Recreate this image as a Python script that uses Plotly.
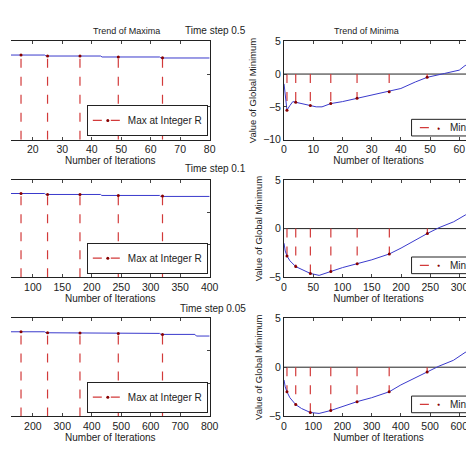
import plotly.graph_objects as go

# left column: maxima trend (x, y) per time step
max_x1 = [10, 24, 24.5, 43, 43.5, 63, 63.5, 80]
max_y1 = [2.58, 2.58, 2.55, 2.55, 2.52, 2.52, 2.49, 2.49]
max_px1 = [16, 25, 36, 49, 64]
max_py1 = [2.58, 2.55, 2.55, 2.52, 2.5]

max_x2 = [50, 120, 122, 215, 217, 315, 317, 400]
max_y2 = [2.58, 2.58, 2.55, 2.55, 2.52, 2.52, 2.49, 2.49]
max_px2 = [80, 125, 180, 245, 320]
max_py2 = [2.58, 2.55, 2.55, 2.52, 2.5]

max_x3 = [100, 240, 245, 430, 435, 630, 635, 750, 755, 800]
max_y3 = [2.58, 2.58, 2.55, 2.55, 2.53, 2.53, 2.5, 2.5, 2.45, 2.45]
max_px3 = [160, 250, 360, 490, 640]
max_py3 = [2.58, 2.55, 2.54, 2.53, 2.5]

# right column: minima trend
min_x1 = [0, 0.5, 1, 2, 3, 4, 6, 9, 11, 13, 16, 20, 25, 30, 36, 40, 45, 49, 55, 60, 62, 65]
min_y1 = [-1.5, -4.0, -5.5, -4.8, -4.2, -4.3, -4.5, -4.8, -5.0, -5.0, -4.5, -4.2, -3.7, -3.3, -2.7, -2.2, -1.2, -0.5, 0.1, 0.6, 1.3, 1.7]
min_px1 = [1, 4, 9, 16, 25, 36, 49]
min_py1 = [-5.5, -4.3, -4.8, -4.5, -3.7, -2.7, -0.5]

min_x2 = [0, 2, 5, 10, 20, 30, 45, 60, 80, 100, 125, 150, 180, 200, 245, 265, 290, 310, 325]
min_y2 = [-1.5, -2.3, -2.8, -3.3, -3.9, -4.2, -4.6, -4.8, -4.4, -4.0, -3.6, -3.2, -2.6, -2.0, -0.5, 0.1, 0.7, 1.4, 1.8]
min_px2 = [5, 20, 45, 80, 125, 180, 245]
min_py2 = [-2.8, -3.9, -4.6, -4.4, -3.6, -2.6, -0.5]

min_x3 = [0, 4, 10, 20, 40, 60, 90, 120, 160, 200, 250, 300, 360, 400, 490, 530, 580, 620, 650]
min_y3 = [-1.3, -2.0, -2.5, -3.1, -3.8, -4.2, -4.6, -4.7, -4.4, -4.0, -3.5, -3.1, -2.5, -1.8, -0.5, 0.1, 0.7, 1.5, 1.9]
min_px3 = [10, 40, 90, 160, 250, 360, 490]
min_py3 = [-2.5, -3.8, -4.6, -4.4, -3.5, -2.5, -0.5]

time_steps = ["Time step 0.5", "Time step 0.1", "Time step 0.05"]

FONT = "Liberation Sans"
BLUE = "#3a3acc"
RED = "#d23a3a"

rows = [
    (max_x1, max_y1, max_px1, max_py1, min_x1, min_y1, min_px1, min_py1, [12.6, 80], 10, [0, 64.7], [-10, 5], 10),
    (max_x2, max_y2, max_px2, max_py2, min_x2, min_y2, min_px2, min_py2, [63, 400], 50, [0, 323], [-5, 5], 50),
    (max_x3, max_y3, max_px3, max_py3, min_x3, min_y3, min_px3, min_py3, [126, 800], 100, [0, 647], [-5, 5], 100),
]
ydoms = [[0.728, 0.941], [0.430, 0.641], [0.129, 0.342]]
ts_y = [0.964, 0.665, 0.363]

fig = go.Figure()
layout = dict(width=474, height=474, margin=dict(l=0, r=0, t=0, b=0),
              paper_bgcolor="white", plot_bgcolor="white", showlegend=True,
              font=dict(family=FONT, size=10, color="#222"))
annotations = []
shapes = []

for i, (mx, my, mpx, mpy, nx, ny, npx, npy, lxr, ldt, rxr, ryr, rdt) in enumerate(rows):
    la, ra = 2 * i + 1, 2 * i + 2
    lleg = "legend" if la == 1 else "legend%d" % la

    # maxima: dashed drops from the bottom, then the curve
    vx, vy = [], []
    for px, py in zip(mpx, mpy):
        vx += [px, px, None]
        vy += [0, py, None]
    fig.add_trace(go.Scatter(x=vx, y=vy, mode="lines", line=dict(color=RED, dash="dash", width=1.2),
                             xaxis="x%d" % la, yaxis="y%d" % la, showlegend=False, hoverinfo="skip"))
    fig.add_trace(go.Scatter(x=mx, y=my, mode="lines", line=dict(color=BLUE, width=1),
                             xaxis="x%d" % la, yaxis="y%d" % la, showlegend=False))
    fig.add_trace(go.Scatter(x=mpx, y=mpy, mode="markers", marker=dict(color="#800", size=3),
                             xaxis="x%d" % la, yaxis="y%d" % la, showlegend=False))
    fig.add_trace(go.Scatter(x=[None], y=[None], mode="lines+markers", name="Max at Integer R",
                             line=dict(color=RED, dash="dash", width=1.2), marker=dict(color="#800", size=3),
                             xaxis="x%d" % la, yaxis="y%d" % la, legend=lleg))

    # minima
    vx, vy = [], []
    for px, py in zip(npx, npy):
        vx += [px, px, None]
        vy += [0, py, None]
    fig.add_trace(go.Scatter(x=[rxr[0], rxr[1]], y=[0, 0], mode="lines", line=dict(color="#222", width=1),
                             xaxis="x%d" % ra, yaxis="y%d" % ra, showlegend=False, hoverinfo="skip"))
    fig.add_trace(go.Scatter(x=vx, y=vy, mode="lines", line=dict(color=RED, dash="dash", width=1.2),
                             xaxis="x%d" % ra, yaxis="y%d" % ra, showlegend=False, hoverinfo="skip"))
    fig.add_trace(go.Scatter(x=nx, y=ny, mode="lines", line=dict(color=BLUE, width=1),
                             xaxis="x%d" % ra, yaxis="y%d" % ra, showlegend=False))
    fig.add_trace(go.Scatter(x=npx, y=npy, mode="markers", marker=dict(color="#800", size=3),
                             xaxis="x%d" % ra, yaxis="y%d" % ra, showlegend=False))

    ax = dict(showline=True, mirror="ticks", linecolor="#222", linewidth=1, ticks="inside",
              ticklen=3, showgrid=False, zeroline=False, tickfont=dict(size=10.5),
              title=dict(text="Number of Iterations", font=dict(size=10), standoff=2))
    layout["xaxis%d" % la] = dict(ax, domain=[0, 0.430], range=lxr, dtick=ldt, anchor="y%d" % la)
    layout["xaxis%d" % ra] = dict(ax, domain=[0.591, 1], range=rxr, dtick=rdt, anchor="y%d" % ra)
    # left plots are cut off at the picture's edge: only the right frame shows
    layout["yaxis%d" % la] = dict(domain=ydoms[i], range=[0, 3], dtick=1, showline=True, side="right",
                                  linecolor="#222", ticks="inside", ticklen=3, showgrid=False,
                                  zeroline=False, showticklabels=False, anchor="x%d" % la)
    layout["yaxis%d" % ra] = dict(domain=ydoms[i], range=ryr, dtick=5, showline=True, mirror="ticks",
                                  linecolor="#222", ticks="inside", ticklen=3, showgrid=False,
                                  zeroline=False, tickfont=dict(size=10.5), anchor="x%d" % ra,
                                  title=dict(text="Value of Global Minimum", font=dict(size=9.5), standoff=4))
    layout[lleg] = dict(bgcolor="white", bordercolor="#222", borderwidth=1, font=dict(size=10),
                        yanchor="bottom", xanchor="right", y=ydoms[i][0] + 0.008, x=0.426,
                        itemwidth=30, tracegroupgap=0)

    # right legend box runs past the picture's edge, so draw it by hand
    b = ydoms[i][0] + 0.008
    t = b + 0.036
    m = (b + t) / 2
    shapes.append(dict(type="rect", xref="paper", yref="paper", x0=0.867, x1=1.2, y0=b, y1=t,
                       line=dict(color="#222", width=1), fillcolor="white", layer="above"))
    shapes.append(dict(type="line", xref="paper", yref="paper", x0=0.885, x1=0.925, y0=m, y1=m,
                       line=dict(color=RED, width=1.2, dash="dash"), layer="above"))
    annotations.append(dict(text="\u25cf", xref="paper", yref="paper", x=0.925, y=m, showarrow=False,
                            font=dict(size=5, color="#800"), xanchor="center", yanchor="middle"))
    annotations.append(dict(text="Min at Integer R", xref="paper", yref="paper", x=0.945, y=m,
                            xanchor="left", yanchor="middle", showarrow=False, font=dict(size=10)))
    annotations.append(dict(text=time_steps[i], xref="paper", yref="paper", x=0.512, xanchor="right",
                            y=ts_y[i], yanchor="middle", showarrow=False, font=dict(size=10)))

annotations.append(dict(text="Trend of Maxima", xref="paper", yref="paper", x=0.173, y=0.964,
                        yanchor="middle", showarrow=False, font=dict(size=9)))
annotations.append(dict(text="Trend of Minima", xref="paper", yref="paper", x=0.844, y=0.964,
                        yanchor="middle", showarrow=False, font=dict(size=9)))
layout["annotations"] = annotations
layout["shapes"] = shapes
fig.update_layout(**layout)
fig.write_html("out.html")
